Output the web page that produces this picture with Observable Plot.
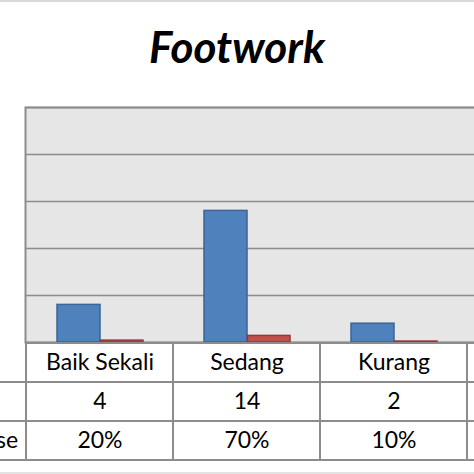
<!DOCTYPE html>
<html>
<head>
<meta charset="utf-8">
<script src="https://cdn.jsdelivr.net/npm/d3@7"></script>
<script src="https://cdn.jsdelivr.net/npm/@observablehq/plot@0.6"></script>
<style>
  html, body { margin: 0; padding: 0; background: #fff; overflow: hidden; }
  #wrap { width: 474px; height: 474px; overflow: hidden; position: relative; box-sizing: border-box;
          border-top: 2px solid #d9d9d9; border-bottom: 2px solid #e3e3e3;
          font-family: Lato, sans-serif; background: #fff; }
  #title { height: 88px; box-sizing: border-box; padding-top: 23px; text-align: center;
           font: italic 700 44px/43px Lato, sans-serif; color: #000; }
  #chart1 svg, #chart2 svg { display: block; max-width: none; }
  #chart2 { margin-top: -4px; }
</style>
</head>
<body>
<div id="wrap">
  <div id="title">Footwork</div>
  <div id="chart1"></div>
  <div id="chart2"></div>
</div>
<script>
// ---- data ----
const categories = ["Baik Sekali", "Sedang", "Kurang"];
const frekuensi = [4, 14, 2];
const persentase = [0.20, 0.70, 0.10];
const rowNames = ["Kategori", "Frekuensi", "Persentase"];
const yTicks = [0, 5, 10, 15, 20, 25];

// ---- tables built from the arrays ----
const labelKey = "_label";
const nextKey = "_next";          // column cut off at the right edge of the picture
const xDomain = [labelKey, ...categories, nextKey];
const bars = categories.map((c, i) => ({category: c, frekuensi: frekuensi[i], persentase: persentase[i]}));

const cells = [];
const texts = [];
[...categories, nextKey].forEach(c => rowNames.forEach(r => cells.push({col: c, row: r})));
categories.forEach((c, i) => {
  texts.push({col: c, row: rowNames[0], text: c});
  texts.push({col: c, row: rowNames[1], text: String(frekuensi[i])});
  texts.push({col: c, row: rowNames[2], text: Math.round(persentase[i] * 100) + "%"});
});
const labelCells = [rowNames[1], rowNames[2]].map(r => ({col: labelKey, row: r, text: r}));

const xScale = {domain: xDomain, range: [-122.33, 614.33], padding: 0, axis: null};
const gridColor = "#8c8c8c";

const chart1 = Plot.plot({
  width: 474, height: 254,
  marginTop: 17, marginBottom: 2, marginLeft: 25, marginRight: -4,
  x: xScale,
  y: {domain: [0, 25], axis: null},
  marks: [
    Plot.frame({fill: "#e6e6e6", stroke: gridColor, strokeWidth: 2}),
    Plot.ruleY(yTicks, {stroke: gridColor, strokeWidth: 1.6}),
    Plot.barY(bars, {x: "category", y: "frekuensi", fill: "#4f81bd", stroke: "#3a6596", strokeWidth: 1.5,
                     insetLeft: 31, insetRight: 73}),
    Plot.barY(bars, {x: "category", y: "persentase", fill: "#c0504d", stroke: "#953735", strokeWidth: 1.5,
                     insetLeft: 74.5, insetRight: 30})
  ]
});
document.getElementById("chart1").append(chart1);

const chart2 = Plot.plot({
  width: 474, height: 123,
  marginTop: 2, marginBottom: 2, marginLeft: 25, marginRight: -4,
  x: xScale,
  y: {domain: rowNames, padding: 0, axis: null},
  style: {fontFamily: "Lato, sans-serif"},
  marks: [
    Plot.cell(cells, {x: "col", y: "row", fill: "white", stroke: gridColor, strokeWidth: 2, inset: 0}),
    Plot.cell(labelCells, {x: "col", y: "row", fill: "white", stroke: gridColor, strokeWidth: 2, inset: 0}),
    Plot.text(texts, {x: "col", y: "row", text: "text", fontSize: 23, fill: "#000"}),
    Plot.text(labelCells.slice(0, 1), {x: "col", y: "row", text: "text", fontSize: 23, fill: "#000", textAnchor: "start", dx: -53}),
    Plot.text(labelCells.slice(1), {x: "col", y: "row", text: "text", fontSize: 23, fill: "#000", textAnchor: "start", dx: -45})
  ]
});
document.getElementById("chart2").append(chart2);
</script>
</body>
</html>
